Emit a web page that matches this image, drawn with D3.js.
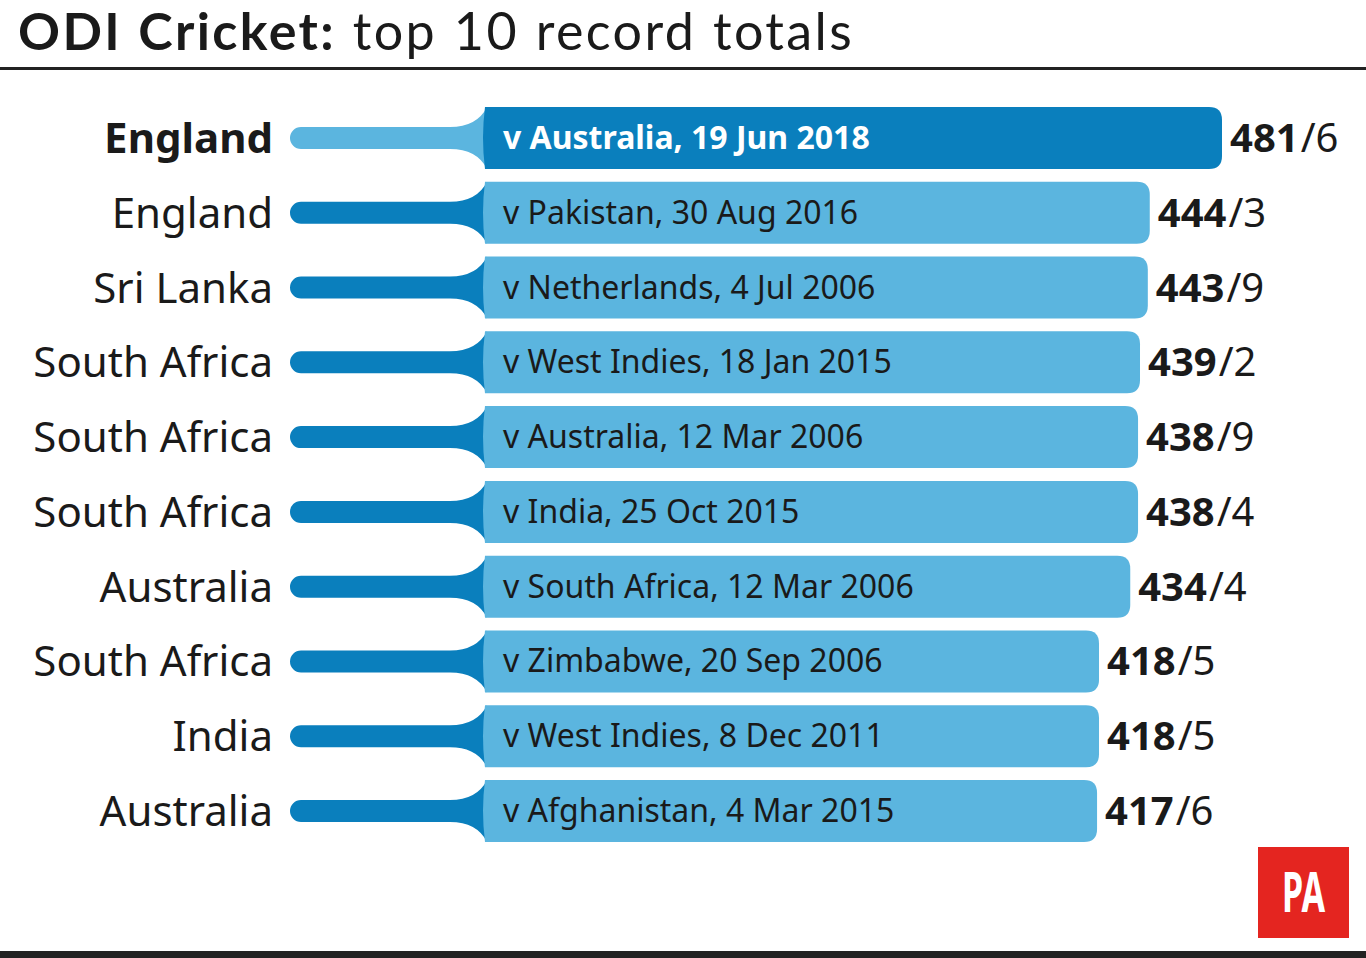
<!DOCTYPE html>
<html>
<head>
<meta charset="utf-8">
<script src="https://cdn.jsdelivr.net/npm/d3@7"></script>
<style>
body { margin: 0; background: #fff; }
text { font-family: "Noto Sans", "Open Sans", sans-serif; }
</style>
</head>
<body>
<script>
// ODI top totals drawn as cricket bats

var teams = ["England", "England", "Sri Lanka", "South Africa", "South Africa",
             "South Africa", "Australia", "South Africa", "India", "Australia"];
var matches = ["v Australia, 19 Jun 2018", "v Pakistan, 30 Aug 2016", "v Netherlands, 4 Jul 2006",
               "v West Indies, 18 Jan 2015", "v Australia, 12 Mar 2006", "v India, 25 Oct 2015",
               "v South Africa, 12 Mar 2006", "v Zimbabwe, 20 Sep 2006", "v West Indies, 8 Dec 2011",
               "v Afghanistan, 4 Mar 2015"];
var runs = [481, 444, 443, 439, 438, 438, 434, 418, 418, 417];
var wickets = [6, 3, 9, 2, 9, 4, 4, 5, 5, 6];

var width = 1366;
var height = 958;
var dark = "#0a7fbd";
var light = "#5bb5df";

var svg = d3.select("body").append("svg")
    .attr("width", width)
    .attr("height", height);

// title
var title = svg.append("text")
    .attr("x", 18)
    .attr("y", 50)
    .attr("font-size", 52)
    .style("font-family", "Lato, sans-serif")
    .attr("letter-spacing", 2.4)
    .attr("word-spacing", 1)
    .attr("fill", "#1a1a1a");
title.append("tspan").attr("font-weight", "bold").text("ODI Cricket:");
title.append("tspan").text(" top 10 record totals");

svg.append("rect").attr("x", 0).attr("y", 67).attr("width", width).attr("height", 3).attr("fill", "#222");
svg.append("rect").attr("x", 0).attr("y", 951).attr("width", width).attr("height", 7).attr("fill", "#222");

var x = d3.scaleLinear().domain([0, 481]).range([283, 1222]);
var y = d3.scaleBand().domain(d3.range(runs.length)).range([107, 842]).paddingInner(0.171);

var handleLeft = 290;
var bladeLeft = 485;
var handleH = 22;

function batPath(i) {
    var cy = y(i) + y.bandwidth() / 2;
    var top = y(i), bot = y(i) + y.bandwidth();
    var r = 13;
    var xe = x(runs[i]);
    var p = d3.path();
    // blade
    p.moveTo(bladeLeft, top);
    p.lineTo(xe - r, top);
    p.quadraticCurveTo(xe, top, xe, top + r);
    p.lineTo(xe, bot - r);
    p.quadraticCurveTo(xe, bot, xe - r, bot);
    p.lineTo(bladeLeft, bot);
    p.quadraticCurveTo(bladeLeft - 4, cy, bladeLeft, top);
    p.closePath();
    return p.toString();
}

function handlePath(i) {
    var cy = y(i) + y.bandwidth() / 2;
    var top = y(i), bot = y(i) + y.bandwidth();
    var h = handleH / 2;
    var p = d3.path();
    p.moveTo(handleLeft + h, cy - h);
    p.lineTo(bladeLeft - 35, cy - h);
    p.quadraticCurveTo(bladeLeft - 8, cy - h, bladeLeft + 2, top);
    p.lineTo(bladeLeft + 2, bot);
    p.quadraticCurveTo(bladeLeft - 8, cy + h, bladeLeft - 35, cy + h);
    p.lineTo(handleLeft + h, cy + h);
    p.arc(handleLeft + h, cy, h, Math.PI / 2, 3 * Math.PI / 2);
    p.closePath();
    return p.toString();
}

var rows = svg.selectAll("g.row")
    .data(runs)
    .enter().append("g")
    .attr("class", "row");

rows.append("path")
    .attr("d", function(d, i) { return handlePath(i); })
    .attr("fill", function(d, i) { return i === 0 ? light : dark; });

rows.append("path")
    .attr("d", function(d, i) { return batPath(i); })
    .attr("fill", function(d, i) { return i === 0 ? dark : light; });

rows.append("text")
    .attr("x", 273)
    .attr("y", function(d, i) { return y(i) + y.bandwidth() / 2 + 15; })
    .attr("text-anchor", "end")
    .attr("font-size", 42)
    .attr("font-weight", function(d, i) { return i === 0 ? "bold" : "normal"; })
    .attr("fill", "#1a1a1a")
    .text(function(d, i) { return teams[i]; });

rows.append("text")
    .attr("x", 503)
    .attr("y", function(d, i) { return y(i) + y.bandwidth() / 2 + 11; })
    .attr("font-size", 32)
    .attr("font-weight", function(d, i) { return i === 0 ? "bold" : "normal"; })
    .attr("fill", function(d, i) { return i === 0 ? "#fff" : "#1a1a1a"; })
    .text(function(d, i) { return matches[i]; });

var vals = rows.append("text")
    .attr("x", function(d) { return x(d) + 8; })
    .attr("y", function(d, i) { return y(i) + y.bandwidth() / 2 + 14; })
    .attr("font-size", 40)
    .attr("fill", "#1a1a1a");
vals.append("tspan").attr("font-weight", "bold").text(function(d) { return d; });
vals.append("tspan").attr("dx", 2).text(function(d, i) { return "/" + wickets[i]; });

// PA logo
svg.append("rect").attr("x", 1258).attr("y", 847).attr("width", 91).attr("height", 91).attr("fill", "#e42520");
svg.append("text")
    .attr("transform", "translate(1303.5,912) scale(0.62,1)")
    .attr("text-anchor", "middle")
    .attr("font-size", 55)
    .attr("font-weight", "bold")
    .attr("fill", "#fff")
    .text("PA");
</script>
</body>
</html>
